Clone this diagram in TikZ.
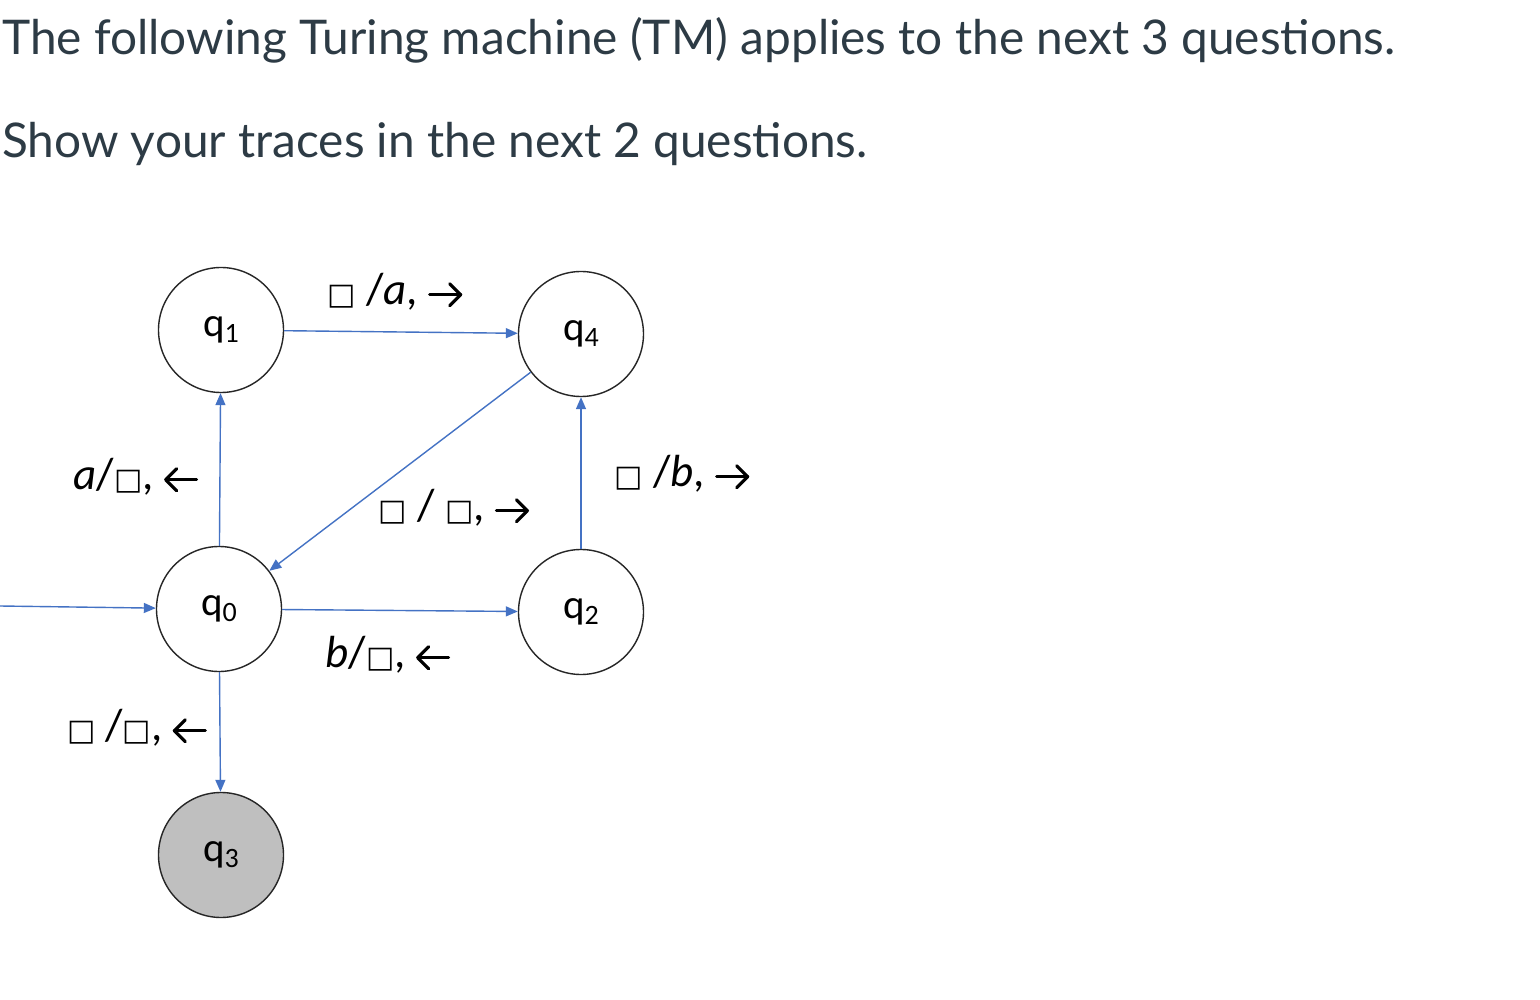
\documentclass[tikz,border=0pt]{standalone}
\usepackage{fontspec}
\setmainfont{Lato}
\newfontfamily\calib{Carlito}
\newfontfamily\symf{DejaVu Sans}
\usetikzlibrary{arrows.meta}
\definecolor{titlec}{HTML}{2D3B45}
\definecolor{edgec}{HTML}{4472C4}
\definecolor{ringc}{HTML}{262626}
\definecolor{finalc}{HTML}{BFBFBF}
\newcommand\blk{{\symf\fontsize{30}{30}\selectfont □}}
\newcommand\ra{\tikz[x=1pt,y=1pt,baseline=-10pt,line width=3.2pt,line cap=round,line join=round]{\draw (0,0) -- (31,0); \draw (20,11) -- (31,0) -- (20,-11);}}
\newcommand\la{\tikz[x=1pt,y=1pt,baseline=-10pt,line width=3.2pt,line cap=round,line join=round]{\draw (0,0) -- (31,0); \draw (11,11) -- (0,0) -- (11,-11);}}
\newcommand\qsub[2]{#1\raisebox{-0.3ex}{\fontsize{28}{28}\selectfont #2}}
\begin{document}
\begin{tikzpicture}[x=1pt,y=-1pt,
  state/.style={circle,draw=ringc,line width=1.4pt,minimum size=125pt,inner sep=0pt,font=\calib\fontsize{41}{41}\selectfont},
  edge/.style={draw=edgec,line width=1.4pt,-{Triangle[length=12pt,width=10pt]}},
  lab/.style={inner sep=0pt,font=\calib\fontsize{45}{45}\selectfont},
  title/.style={anchor=base west,inner sep=0pt,text=titlec,font=\fontsize{47.8}{47.8}\selectfont}]
\useasboundingbox (0,0) rectangle (1540,1000);
\fill[white] (0,0) rectangle (1540,1000);
\node[title] (t1) at (2,55) {The following Turing machine (TM) applies to the next 3 questions.};
\node[title] (t2) at (2,158) {Show your traces in the next 2 questions.};
\node[state] (q1) at (221,330) {\qsub{q}{1}};
\node[state] (q4) at (581,334) {\qsub{q}{4}};
\node[state] (q0) at (219,609) {\qsub{q}{0}};
\node[state] (q2) at (581,612) {\qsub{q}{2}};
\node[state,fill=finalc] (q3) at (221,855) {\qsub{q}{3}};
\coordinate (start) at (0,606);
\draw[edge] (q1) -- (q4);
\draw[edge] (q0) -- (q1);
\draw[edge] (q4) -- (q0);
\draw[edge] (q0) -- (q2);
\draw[edge] (q2) -- (q4);
\draw[edge] (q0) -- (q3);
\draw[edge] (start) -- (q0);
\node[lab] (l14) at (395,292) {\blk\ /\textit{a}, \ra};
\node[lab] (l01) at (136,477) {\textit{a}/\blk, \la};
\node[lab] (l40) at (454,508) {\blk\ / \blk, \ra};
\node[lab] (l24) at (682,474) {\blk\ /\textit{b}, \ra};
\node[lab] (l02) at (388,655) {\textit{b}/\blk, \la};
\node[lab] (l03) at (137,728) {\blk\ /\blk, \la};
\end{tikzpicture}
\end{document}
